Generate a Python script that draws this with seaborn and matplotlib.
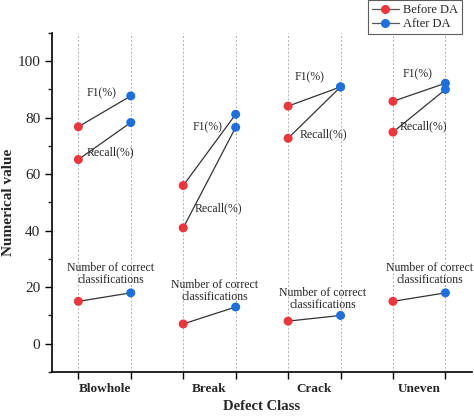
import numpy as np
import pandas as pd
import seaborn as sns
import matplotlib.pyplot as plt
from matplotlib.lines import Line2D

## values
categories = ["Blowhole", "Break", "Crack", "Uneven"]
stages = ["Before DA", "After DA"]
f1_before = [76.8, 56.0, 84.1, 85.8]
f1_after = [87.7, 81.2, 90.9, 92.2]
recall_before = [65.2, 41.0, 72.7, 74.9]
recall_after = [78.3, 76.6, 90.9, 90.0]
correct_before = [15, 7, 8, 15]
correct_after = [18, 13, 10, 18]

rows = []
for i, cat in enumerate(categories):
    for metric, bef, aft in [("F1(%)", f1_before, f1_after),
                             ("Recall(%)", recall_before, recall_after),
                             ("Number of correct\nclassifications", correct_before, correct_after)]:
        rows.append({"cat": cat, "metric": metric, "stage": "Before DA", "pos": 2 * i, "value": bef[i]})
        rows.append({"cat": cat, "metric": metric, "stage": "After DA", "pos": 2 * i + 1, "value": aft[i]})
df = pd.DataFrame(rows)
df["unit"] = df["cat"] + "_" + df["metric"]

sns.set_theme(style="ticks")
plt.rcParams["font.family"] = ["Liberation Serif", "DejaVu Serif"]

red = "#e8383d"
blue = "#1f6fdb"

fig = plt.figure(figsize=(4.74, 4.17), dpi=100)
ax = fig.add_axes([0.11, 0.108, 0.885, 0.813])

for p in range(2 * len(categories)):
    ax.axvline(p, color="#b0b0b0", lw=0.7, ls=(0, (2, 2)), zorder=0)

sns.lineplot(data=df, x="pos", y="value", units="unit", estimator=None,
             color="#333333", lw=0.9, ax=ax, legend=False)
sns.scatterplot(data=df, x="pos", y="value", hue="stage", palette={"Before DA": red, "After DA": blue},
                s=42, edgecolor="none", ax=ax, legend=False, zorder=3)

# annotations
fs = 8.5
ann_f1 = [(0.45, 88.5, "center"), (2.75, 76.6, "right"), (4.4, 94.2, "center"), (6.47, 95.2, "center")]
ann_rec = [(0.15, 67.7, "left"), (2.22, 47.9, "left"), (4.22, 74.3, "left"), (6.12, 77.0, "left")]
ann_num = [(0.62, 24.5), (2.6, 18.8), (4.66, 16.0), (6.7, 24.5)]
for (x, y, ha) in ann_f1:
    ax.text(x, y, "F1(%)", ha=ha, va="center", fontsize=fs)
for (x, y, ha) in ann_rec:
    ax.text(x, y, "Recall(%)", ha=ha, va="center", fontsize=fs)
for (x, y) in ann_num:
    ax.text(x, y, "Number of correct\nclassifications", ha="center", va="center",
            fontsize=fs, linespacing=1.0)

ax.set_xlim(-0.5, 7.5)
ax.set_ylim(-10, 110)
ax.set_yticks([0, 20, 40, 60, 80, 100])
ax.set_yticks(np.arange(-10, 111, 10), minor=True)
ax.set_xticks(range(8))
ax.set_xticklabels([])
ax.set_xticks([0.5, 2.5, 4.5, 6.5], minor=True)
ax.set_xticklabels(categories, minor=True, fontweight="bold", fontsize=9.5)
ax.tick_params(axis="x", which="minor", length=0, pad=8)
ax.tick_params(axis="both", which="major", length=5, width=1, direction="out", labelsize=11, color="black")
ax.tick_params(axis="y", which="minor", length=3, width=1)
sns.despine(ax=ax)
for s in ["left", "bottom"]:
    ax.spines[s].set_linewidth(1.2)
    ax.spines[s].set_color("black")

ax.set_xlabel("Defect Class", fontweight="bold", fontsize=10.5)
ax.set_ylabel("Numerical value", fontweight="bold", fontsize=11)
ax.xaxis.set_label_coords(0.5, -0.083)
ax.yaxis.set_label_coords(-0.088, 0.5)

handles = [Line2D([0], [0], color="#555555", lw=0.9, marker="o", markersize=5.5,
                  markerfacecolor=c, markeredgecolor=c) for c in (red, blue)]
leg = fig.legend(handles, stages, loc="lower left", bbox_to_anchor=(0.776, 0.918),
                 frameon=True, fancybox=False, edgecolor="#333333", fontsize=9,
                 handlelength=2.2, borderpad=0.3, labelspacing=0.2, handletextpad=0.3,
                 borderaxespad=0)
leg.get_frame().set_linewidth(0.8)

fig.savefig("out.png", dpi=100)
